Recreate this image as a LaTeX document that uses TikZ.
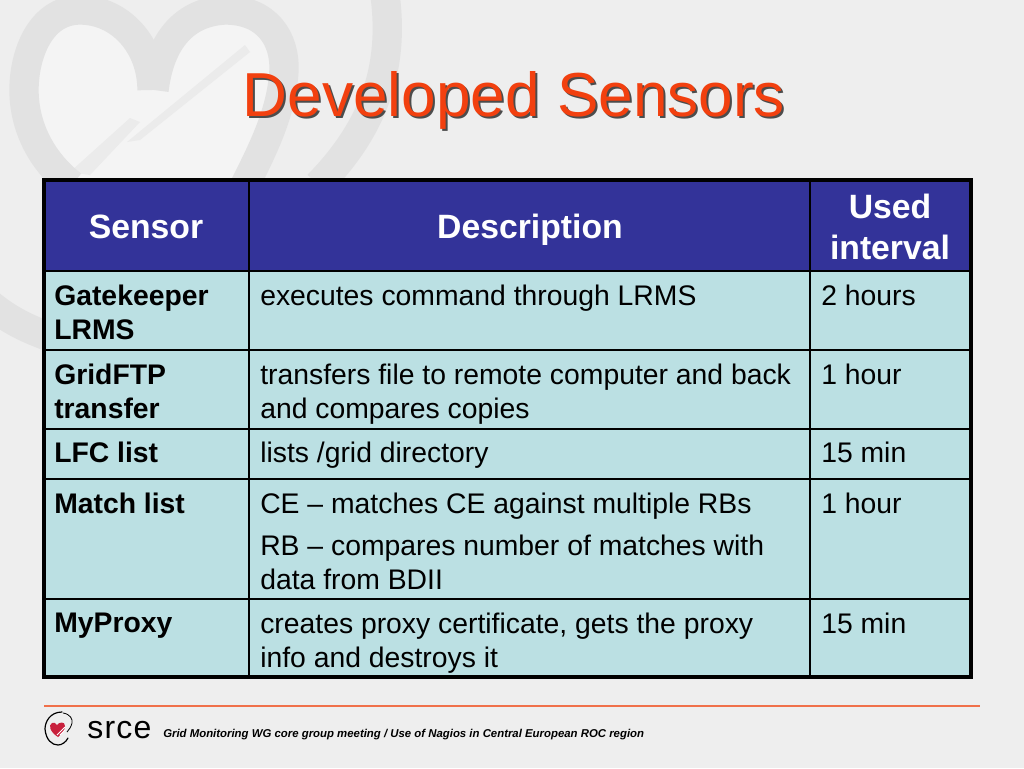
\documentclass[tikz,border=0pt]{standalone}
\usepackage{fontspec}
\setmainfont{Liberation Sans}
\usetikzlibrary{positioning}
\definecolor{slide}{HTML}{EEEEEE}
\definecolor{mark}{HTML}{E2E2E2}
\definecolor{markin}{HTML}{F4F4F4}
\definecolor{streak}{HTML}{EBEBEB}
\definecolor{head}{HTML}{333399}
\definecolor{body}{HTML}{BBE0E3}
\definecolor{titleorange}{HTML}{F2400F}
\definecolor{rule}{HTML}{F0704A}
\definecolor{heartred}{HTML}{C8203C}

\begin{document}
\begin{tikzpicture}[x=0.75pt,y=-0.75pt,
    headcell/.style={draw=black,line width=1.1pt,fill=head},
    bodycell/.style={draw=black,line width=1.1pt,fill=body},
    headtext/.style={text=white,inner sep=0pt,anchor=base,font=\fontsize{25.3}{30.8}\selectfont\bfseries},
    sensortext/.style={text=black,inner sep=0pt,anchor=north west,align=left,font=\fontsize{21.25}{25.5}\selectfont\bfseries},
    celltext/.style={text=black,inner sep=0pt,anchor=north west,align=left,font=\fontsize{21.25}{25.5}\selectfont},
    marker/.style={draw=mark,line width=22pt,line cap=butt}]

            \useasboundingbox (0,0) rectangle (1024,768);
            \fill[slide] (0,0) rectangle (1024,768);

            % watermark
            \fill[markin] (150,85) .. controls (130,10) and (60,0) .. (30,70)
                .. controls (15,120) and (40,170) .. (90,190) -- (250,190)
                .. controls (285,130) and (300,70) .. (280,30)
                .. controls (250,-5) and (170,5) .. (150,85) -- cycle;
            \fill[streak] (127,142) -- (245,45) -- (250,52) -- (140,140) -- cycle;
            \fill[streak] (70,172) -- (130,118) -- (140,122) -- (90,175) -- cycle;
            \draw[marker] (152,90) .. controls (152,45) and (120,10) .. (80,10)
                .. controls (40,10) and (24,55) .. (24,90)
                .. controls (24,125) and (40,160) .. (72,185);
            \draw[marker] (154,90) .. controls (160,40) and (185,12) .. (225,10)
                .. controls (268,10) and (285,40) .. (284,70)
                .. controls (282,110) and (265,145) .. (245,185);
            \draw[marker] (385,-5) .. controls (395,70) and (372,130) .. (318,185);
            \draw[marker] (-15,300) .. controls (5,318) and (25,328) .. (50,337);

            % title
            \node[text=black!70,inner sep=0pt,font=\fontsize{46.6}{47}\selectfont] at (516,102.5) {Developed Sensors};
            \node[text=titleorange,inner sep=0pt,font=\fontsize{46.6}{47}\selectfont] (title) at (514,100.5) {Developed Sensors};

            % table
            \foreach \xa/\xb in {44/249,249/810,810/971}{
                \draw[headcell] (\xa,180) rectangle (\xb,271);
                \foreach \ya/\yb in {271/350,350/429,429/479,479/599,599/677}{
                    \draw[bodycell] (\xa,\ya) rectangle (\xb,\yb);
                }
            }
            \draw[line width=2.4pt] (44,180) rectangle (971,677);

            \node[headtext] (sensor) at (146,238) {Sensor};
            \node[headtext] (description) at (530,238) {Description};
            \node[headtext] (used) at (890,218) {Used};
            \node[headtext] (interval) at (890,259) {interval};

            \foreach \y/\name/\desc/\time in {
                284.5/{Gatekeeper\\LRMS}/{executes command through LRMS}/{2 hours},
                363.5/{GridFTP\\transfer}/{transfers file to remote computer and back\\and compares copies}/{1 hour},
                441.5/{LFC list}/{lists /grid directory}/{15 min},
                492.5/{Match list}/{CE -- matches CE against multiple RBs\\[6pt]RB -- compares number of matches with\\data from BDII}/{1 hour},
                612.5/{MyProxy}/{creates proxy certificate, gets the proxy\\info and destroys it}/{15 min}}{
                \node[sensortext] at (54,\y) {\name};
                \node[celltext] at (260,\y) {\desc};
                \node[celltext] at (821,\y) {\time};
            }

            % footer
            \draw[rule,line width=0.9pt] (44,706) -- (980,706);
            \draw[black,line width=0.9pt,line cap=round] (62,712) .. controls (50,712) and (45,722) .. (45,729)
                .. controls (46,740) and (52,745) .. (58,745) .. controls (62,745) and (66,742) .. (68,738);
            \draw[black,line width=0.6pt] (63,713) .. controls (70,714) and (73,719) .. (72,723)
                .. controls (71,727) and (69,730) .. (67,732);
            \fill[heartred] (58,737) .. controls (50,732) and (48,725) .. (52,723)
                .. controls (54,722) and (56,723) .. (57,725)
                .. controls (59,722) and (65,721) .. (65,726) .. controls (65,731) and (61,734) .. (58,737) -- cycle;
            \draw[white,line width=0.6pt] (57,735) -- (65,727) (60,735) -- (65,730);
            \node[inner sep=0pt,anchor=base west,font=\fontsize{24}{24}\selectfont] (srce) at (87,738) {\addfontfeature{LetterSpace=4}srce};
            \node[inner sep=0pt,anchor=base west,font=\fontsize{8.54}{10}\selectfont\bfseries\itshape] (meeting) at (163,737) {Grid Monitoring WG core group meeting / Use of Nagios in Central European ROC region};

        \end{tikzpicture}
\end{document}
